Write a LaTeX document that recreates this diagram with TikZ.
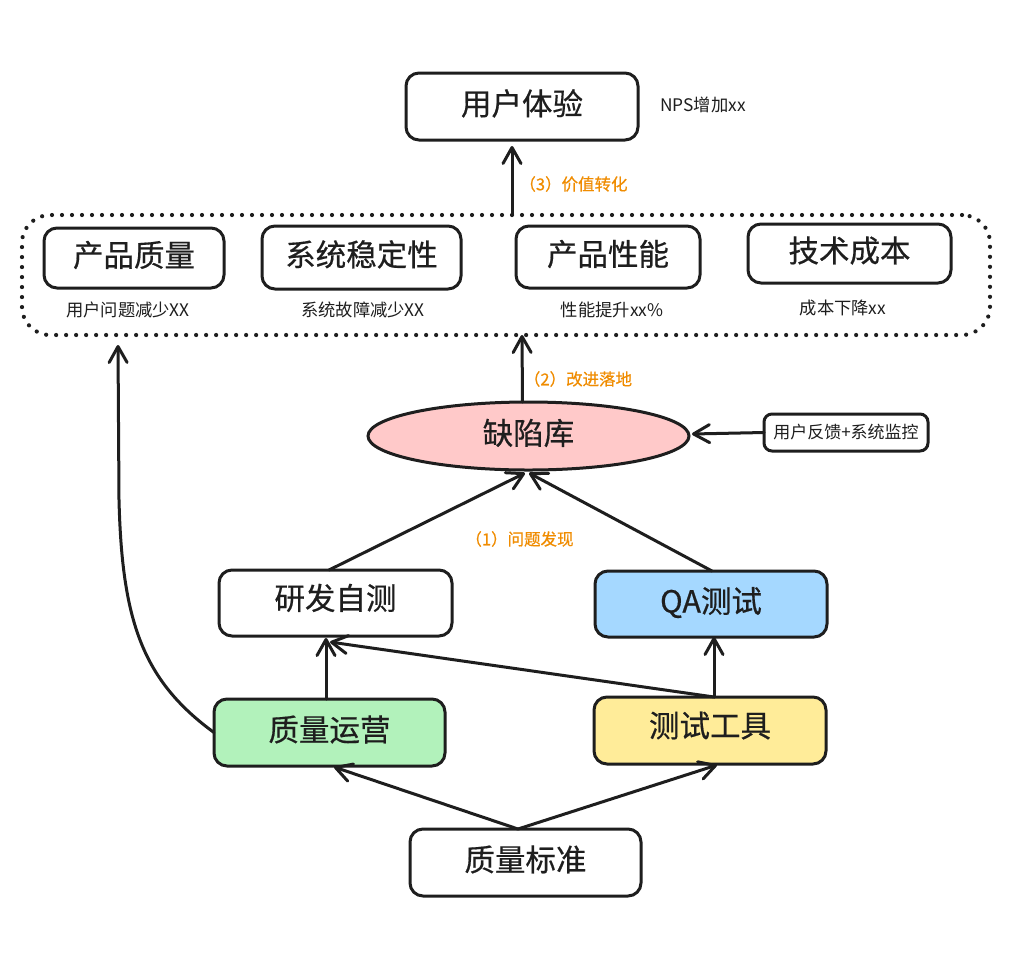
\documentclass[tikz,border=0pt]{standalone}
\usepackage{fontspec}
\setmainfont{Noto Sans CJK SC}[BoldFont=*,BoldFeatures={FakeBold=0.5}]
\usetikzlibrary{arrows.meta,shapes.geometric}
\definecolor{ink}{HTML}{1E1E1E}
\definecolor{lab}{HTML}{F08C00}
\definecolor{gr}{HTML}{B2F2BB}
\definecolor{ye}{HTML}{FFEC99}
\definecolor{bl}{HTML}{A5D8FF}
\definecolor{re}{HTML}{FFC9C9}
\newcommand{\tx}[2][8.5pt]{\raisebox{-#1}[0pt][0pt]{#2}}
\tikzset{
  nbox/.style={draw=ink,line width=3pt,rounded corners=13pt,inner sep=0pt,outer sep=0pt,text=ink,font=\fontsize{30.5}{32}\selectfont\bfseries},
  grpbox/.style={draw=ink,line width=4.2pt,rounded corners=28pt,line cap=round,dash pattern=on 0pt off 10pt,inner sep=0pt,outer sep=0pt},
  nnote/.style={inner sep=0pt,text=ink,font=\fontsize{17.3}{19}\selectfont},
  nstep/.style={inner sep=0pt,text=lab,font=\fontsize{16.5}{18}\selectfont\bfseries},
  arr/.style={draw=ink,line width=3pt,line cap=round,-{Straight Barb[length=16pt,width=18pt,line width=3pt,round]}}
}
\begin{document}
\begin{tikzpicture}[x=1pt,y=-1pt]
\useasboundingbox (0,0) rectangle (1022,970);
\fill[white] (0,0) rectangle (1022,970);
\node[grpbox,minimum width=968pt,minimum height=120pt] (grp) at (506,275) {};
\node[nbox,minimum width=232pt,minimum height=67pt] (ux) at (522,106.5) {\tx{用户体验}};
\node[nnote] (nps) at (703,105) {NPS增加xx};
\node[nbox,minimum width=180pt,minimum height=60pt] (pq) at (134,258) {\tx{产品质量}};
\node[nbox,minimum width=199pt,minimum height=63pt] (ss) at (361.5,257.5) {\tx{系统稳定性}};
\node[nbox,minimum width=184pt,minimum height=62pt] (pp) at (608,257) {\tx{产品性能}};
\node[nbox,minimum width=203pt,minimum height=59pt] (tc) at (849.5,253.5) {\tx{技术成本}};
\node[nnote] (n1) at (128,310) {用户问题减少XX};
\node[nnote] (n2) at (363,310) {系统故障减少XX};
\node[nnote] (n3) at (612,310) {性能提升xx\%};
\node[nnote] (n4) at (843,308) {成本下降xx};
\node[nbox,ellipse,fill=re,minimum width=321pt,minimum height=68pt] (db) at (528.5,436) {\tx{缺陷库}};
\node[nbox,rounded corners=8pt,minimum width=164pt,minimum height=37pt,font=\fontsize{17}{19}\selectfont] (fb) at (846,432.5) {用户反馈+系统监控};
\node[nbox,minimum width=233pt,minimum height=66pt] (rd) at (335.5,603) {\tx[6.5pt]{研发自测}};
\node[nbox,fill=bl,minimum width=232pt,minimum height=66pt] (qa) at (711,604) {\tx{QA测试}};
\node[nbox,fill=gr,minimum width=231pt,minimum height=67pt] (op) at (329.5,732.5) {\tx{质量运营}};
\node[nbox,fill=ye,minimum width=232pt,minimum height=67pt] (tt) at (710,730.5) {\tx[6.5pt]{测试工具}};
\node[nbox,minimum width=231pt,minimum height=67pt] (qs) at (525.5,862.5) {\tx{质量标准}};
\node[nstep] (s3) at (573.5,184) {（3）价值转化};
\node[nstep] (s2) at (578,379) {（2）改进落地};
\node[nstep] (s1) at (519.5,539) {（1）问题发现};
\draw[arr] ([xshift=6pt]grp.north) -- ([xshift=-10pt,yshift=-6pt]ux.south);
\draw[arr] ([xshift=-6pt]db.north) -- ([xshift=16pt]grp.south);
\draw[arr] (fb.west) -- ([xshift=3pt,yshift=2pt]db.east);
\draw[arr] ([xshift=-6.5pt]rd.north) -- ([xshift=-3.5pt,yshift=-3pt]db.south);
\draw[arr] ([xshift=1pt]qa.north) -- ([xshift=0.5pt,yshift=-3pt]db.south);
\draw[arr] ([xshift=-3.5pt]op.north) -- ([xshift=-9.5pt,yshift=-2pt]rd.south);
\draw[arr] ([xshift=4pt]tt.north) -- ([xshift=3pt]qa.south);
\draw[arr] ([xshift=4pt]tt.north) -- ([xshift=-5.5pt,yshift=-6pt]rd.south);
\draw[arr] ([xshift=-7.5pt]qs.north) -- ([xshift=4.5pt,yshift=-1pt]op.south);
\draw[arr] ([xshift=-7.5pt]qs.north) -- ([xshift=7pt,yshift=-1pt]tt.south);
\draw[arr] (op.west) .. controls (142,680) and (122,620) .. (119,500) -- ([xshift=-388pt,yshift=-10pt]grp.south);
\end{tikzpicture}
\end{document}
